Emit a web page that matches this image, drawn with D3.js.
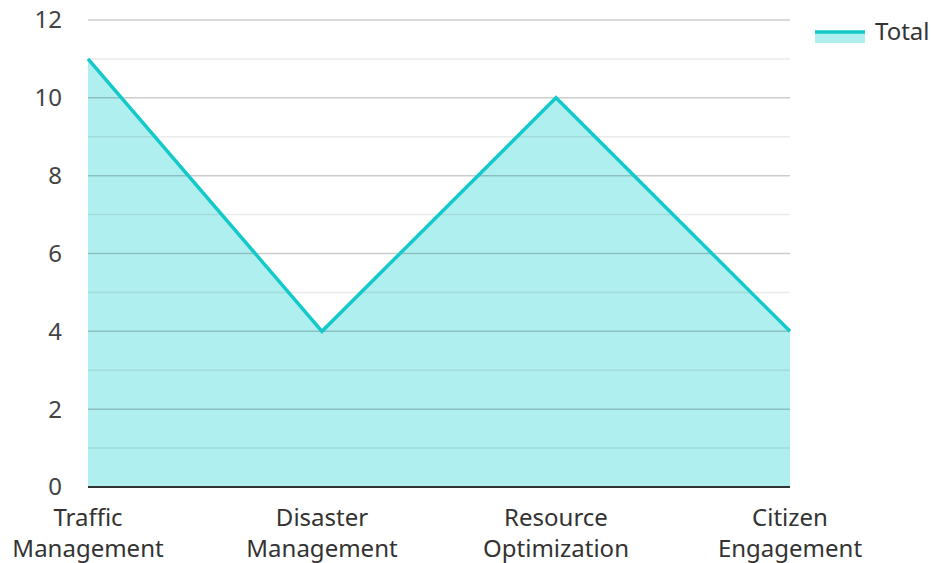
<!DOCTYPE html>
<html>
<head>
<meta charset="utf-8">
<script src="https://cdn.jsdelivr.net/npm/d3@7"></script>
<style>
  body { margin: 0; background: #fff; overflow: hidden; }
  text { font-family: "Noto Sans", "Open Sans", sans-serif; fill: #333; }
</style>
</head>
<body>
<div id="chart"></div>
<script>
const categories = ['Traffic Management', 'Disaster Management', 'Resource Optimization', 'Citizen Engagement'];
const totals = [11, 4, 10, 4];
const yTicks = [0, 2, 4, 6, 8, 10, 12];
const seriesName = 'Total';

let margin = {top: 20, right: 141, bottom: 76, left: 88};
let width = 931 - margin.left - margin.right;
let height = 563 - margin.top - margin.bottom;

let svg = d3.select('#chart').append('svg')
  .attr('width', 931)
  .attr('height', 563)
  .style('display', 'block');

let g = svg.append('g')
  .attr('transform', 'translate(' + margin.left + ',' + margin.top + ')');

let x = d3.scalePoint().domain(categories).range([0, width]);
let y = d3.scaleLinear().domain([0, 12]).range([height, 0]);

let data = categories.map(function(c, i) { return {cat: c, val: totals[i]}; });

// area first, grid drawn on top so lines show through
let area = d3.area()
  .x(function(d) { return x(d.cat); })
  .y0(height)
  .y1(function(d) { return y(d.val); });

g.append('path')
  .datum(data)
  .attr('d', area)
  .style('fill', '#00cccc')
  .style('fill-opacity', 0.31);

// minor grid
g.selectAll('.minor')
  .data(d3.range(1, 12, 2))
  .enter().append('line')
  .attr('class', 'minor')
  .attr('x1', 0).attr('x2', width)
  .attr('y1', function(d) { return y(d); })
  .attr('y2', function(d) { return y(d); })
  .style('stroke', '#000')
  .style('stroke-opacity', 0.08)
  .style('stroke-width', 1.5);

// major grid
g.selectAll('.major')
  .data(yTicks.slice(1))
  .enter().append('line')
  .attr('class', 'major')
  .attr('x1', 0).attr('x2', width)
  .attr('y1', function(d) { return y(d); })
  .attr('y2', function(d) { return y(d); })
  .style('stroke', '#000')
  .style('stroke-opacity', 0.2)
  .style('stroke-width', 1.5);

let line = d3.line()
  .x(function(d) { return x(d.cat); })
  .y(function(d) { return y(d.val); });

g.append('path')
  .datum(data)
  .attr('d', line)
  .style('fill', 'none')
  .style('stroke', '#13c9c9')
  .style('stroke-width', 3.5);

// baseline
g.append('line')
  .attr('x1', 0).attr('x2', width)
  .attr('y1', height).attr('y2', height)
  .style('stroke', '#333')
  .style('stroke-width', 2);

// y labels
g.selectAll('.ylab')
  .data(yTicks)
  .enter().append('text')
  .attr('class', 'ylab')
  .attr('x', -26)
  .attr('y', function(d) { return y(d); })
  .attr('dy', '0.35em')
  .attr('text-anchor', 'end')
  .style('font-size', '24px')
  .style('fill', '#444')
  .text(function(d) { return d; });

// x labels, two lines each
let xl = g.selectAll('.xlab')
  .data(categories)
  .enter().append('text')
  .attr('class', 'xlab')
  .attr('text-anchor', 'middle')
  .style('font-size', '24px')
  .style('fill', '#333');

xl.each(function(d) {
  let words = d.split(' ');
  let t = d3.select(this);
  words.forEach(function(w, i) {
    t.append('tspan')
      .attr('x', x(d))
      .attr('y', height + 39 + i * 31)
      .text(w);
  });
});

// legend
let lg = svg.append('g').attr('transform', 'translate(815,31)');
lg.append('rect')
  .attr('x', 0).attr('y', 0)
  .attr('width', 50).attr('height', 12)
  .style('fill', '#00cccc')
  .style('fill-opacity', 0.31);
lg.append('line')
  .attr('x1', 0).attr('x2', 50)
  .attr('y1', 1).attr('y2', 1)
  .style('stroke', '#13c9c9')
  .style('stroke-width', 3.5);
lg.append('text')
  .attr('x', 60)
  .attr('y', 1)
  .attr('dy', '0.35em')
  .style('font-size', '24px')
  .style('fill', '#333')
  .text(seriesName);
</script>
</body>
</html>
